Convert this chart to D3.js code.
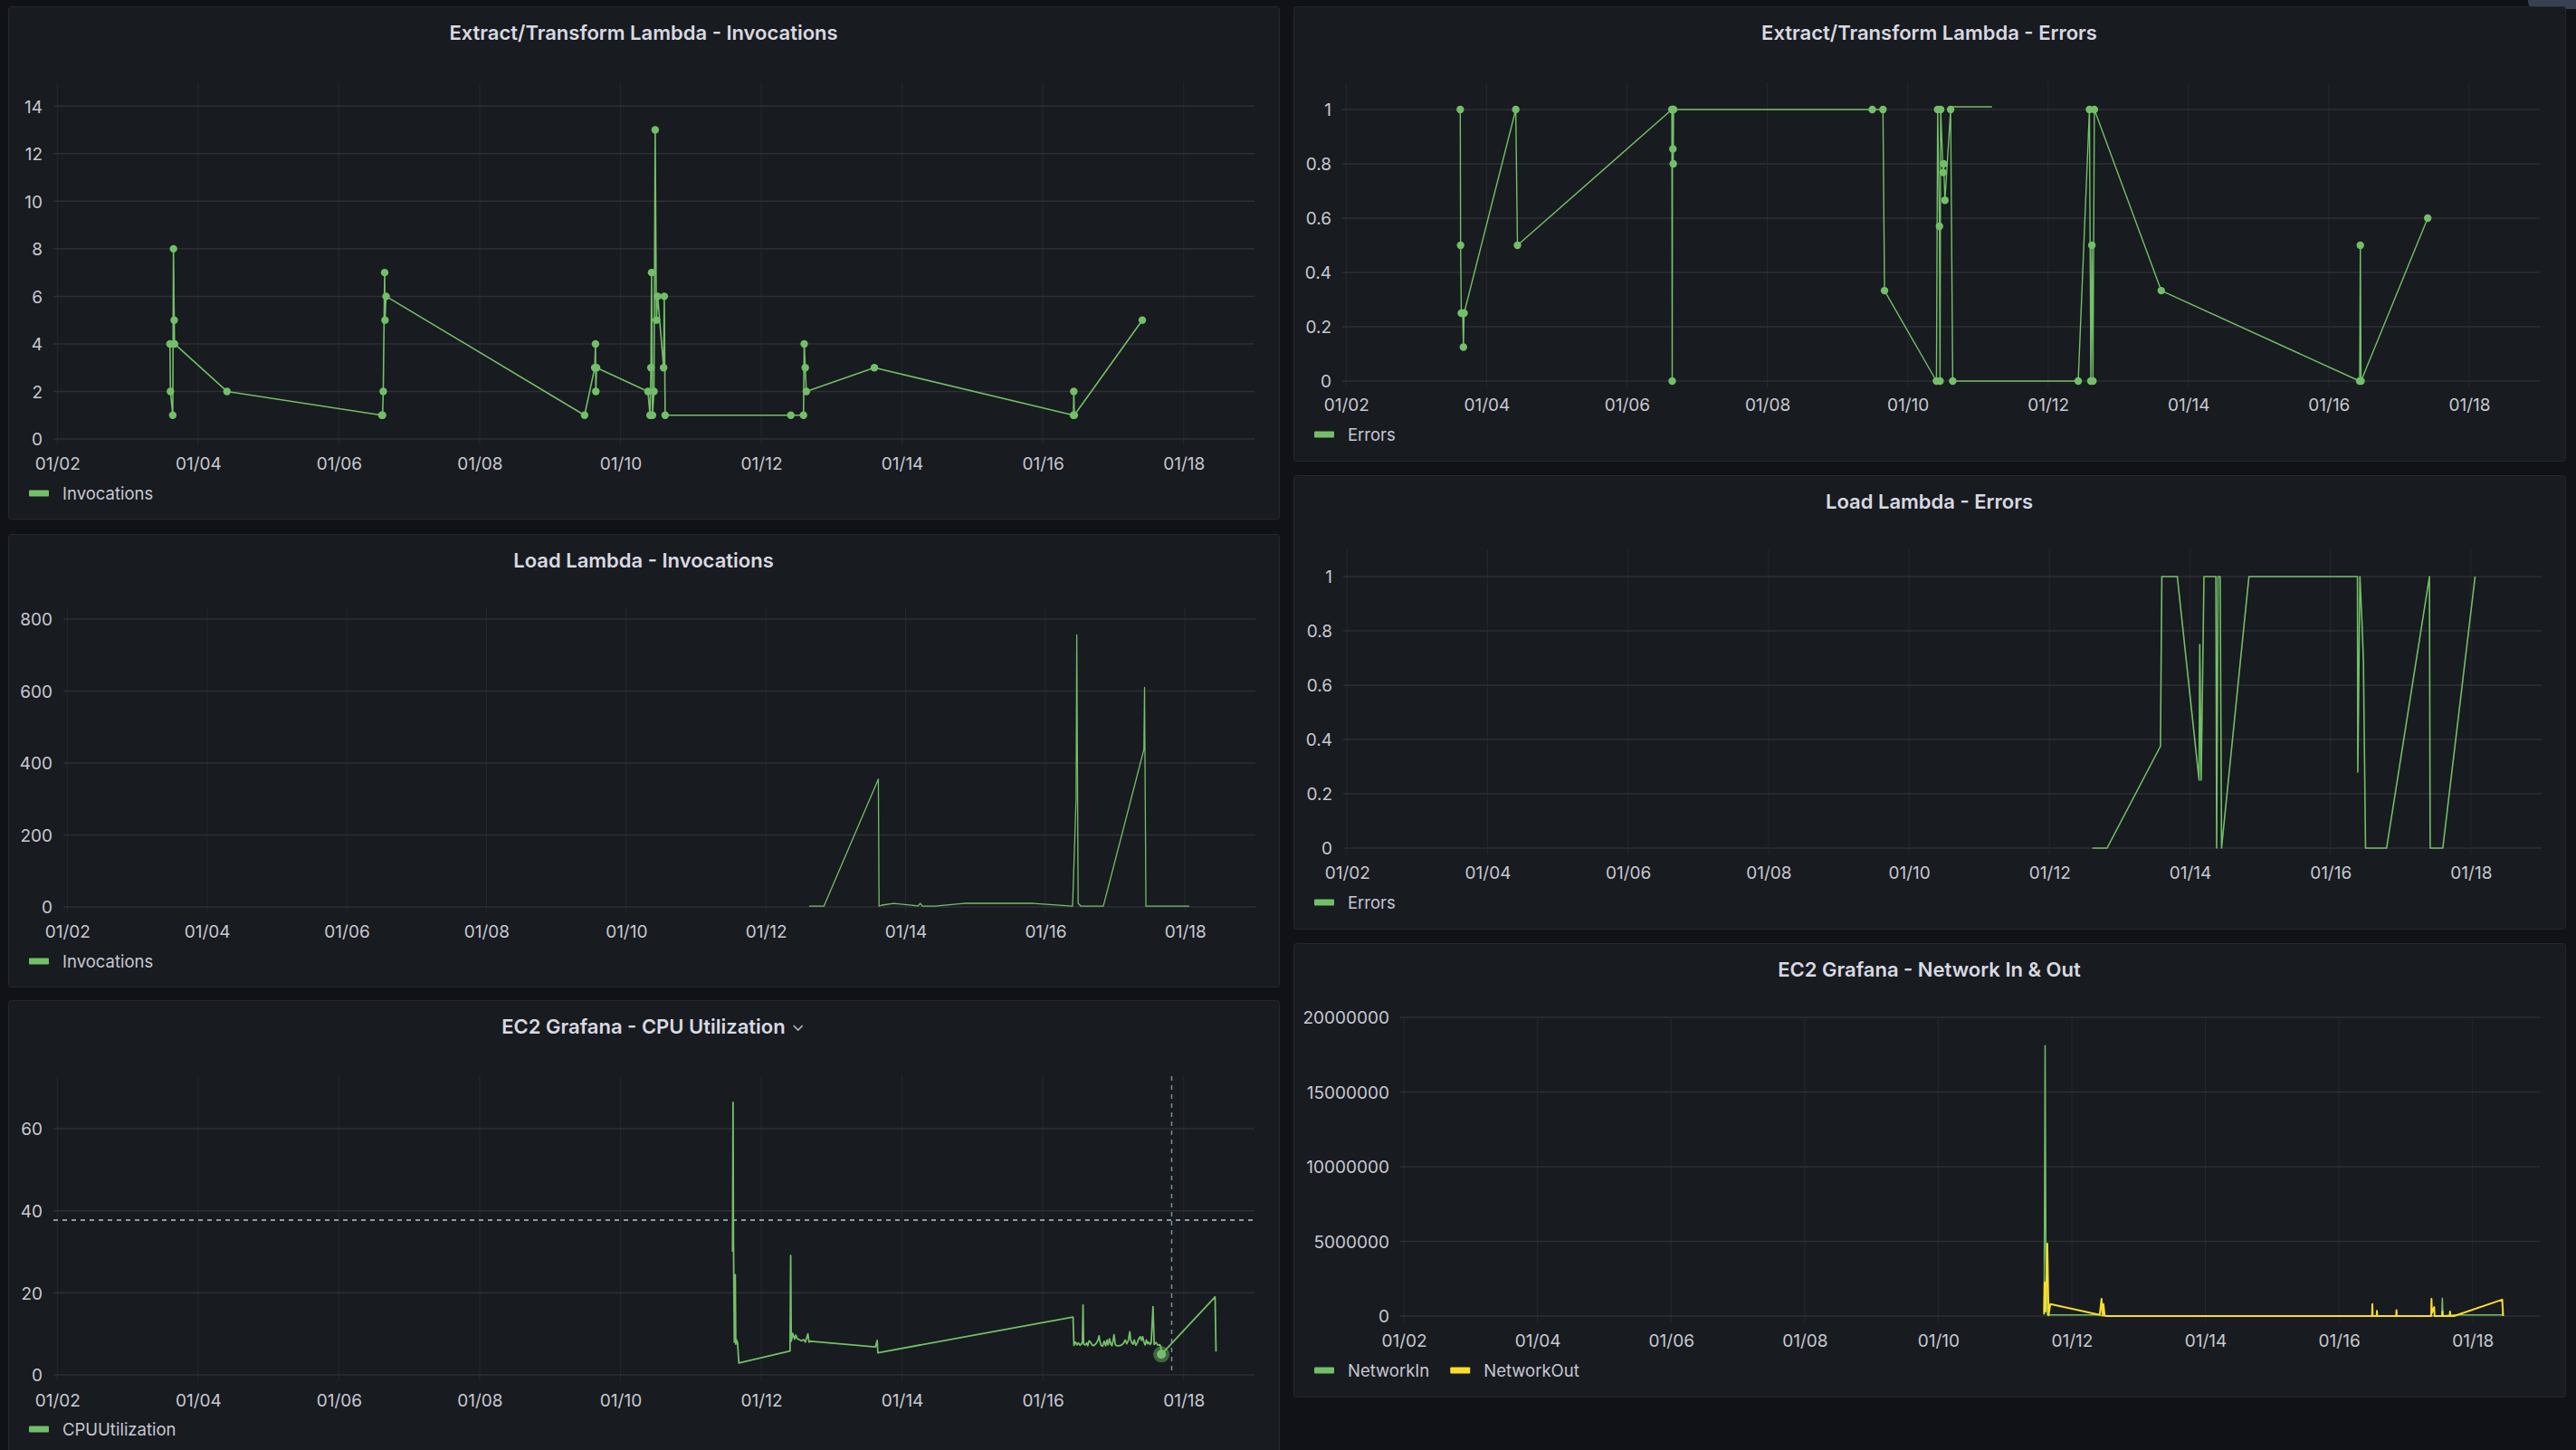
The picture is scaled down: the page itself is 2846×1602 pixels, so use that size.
<!DOCTYPE html>
<html>
<head>
<meta charset="utf-8">
<script src="https://cdn.jsdelivr.net/npm/d3@7"></script>
<style>
  html, body { margin: 0; padding: 0; background: #111217; overflow: hidden; }
  svg { display: block; font-family: Inter, "Noto Sans", sans-serif; }
</style>
</head>
<body>
<div id="chart"></div>
<script>
///// DATA : [days since 01/02 00:00, value] /////

var etInvocations = [
  [1.600,4],[1.607,2],[1.640,1],[1.650,8],[1.660,5],[1.665,4],[2.410,2],
  [4.610,1],[4.620,1],[4.630,2],[4.650,7],[4.655,5],[4.670,6],[7.490,1],
  [7.635,3],[7.645,4],[7.650,2],[7.660,3],[8.390,2],[8.420,1],[8.433,3],
  [8.442,7],[8.455,1],[8.476,2],[8.493,13],[8.510,5],[8.528,6],[8.613,3],
  [8.622,6],[8.635,1],[10.420,1],[10.600,1],[10.610,4],[10.625,3],[10.640,2],
  [11.607,3],[14.435,1],[14.440,2],[14.447,1],[15.413,5]
];

var etErrors = [
  [1.625,1],[1.630,0.5],[1.640,0.25],[1.660,0.25],[1.670,0.125],[1.680,0.25],
  [2.416,1],[2.440,0.5],[4.640,1],[4.645,0],[4.650,1],[4.655,0.855],[4.660,0.8],
  [4.665,1],[7.496,1],[7.648,1],[7.670,0.333],[8.410,0],[8.427,1],[8.453,0.57],
  [8.461,0],[8.470,1],[8.505,0.768],[8.513,0.8],[8.531,0.666],[8.612,1],[8.642,0],
  [10.430,0],[10.590,1],[10.610,0],[10.625,0.5],[10.640,0],[10.660,1],
  [11.613,0.333],[14.440,0],[14.450,0.5],[14.460,0],[15.410,0.6]
];
var etErrorsTail = [[8.634,1.01],[9.202,1.01]];

var loadInvocations = [
  [10.62,2],[10.83,2],[11.61,355],[11.62,2],[11.66,5],[11.83,10],[12.18,3],
  [12.21,10],[12.24,2],[12.42,2],[12.83,10],[13.83,10],[14.39,2],[14.44,300],
  [14.45,756],[14.47,10],[14.51,2],[14.83,2],[15.41,437],[15.42,610],[15.44,2],
  [16.06,2]
];

var loadErrors = [
  [10.61,0],[10.82,0],[11.58,0.375],[11.60,1],[11.82,1],[12.13,0.25],[12.14,0.75],
  [12.16,0.25],[12.20,1],[12.37,1],[12.38,0],[12.40,1],[12.43,1],[12.45,0],
  [12.84,1],[14.385,1],[14.39,0.28],[14.42,1],[14.45,0.83],[14.47,0.69],[14.50,0],
  [14.80,0],[15.41,1],[15.42,0],[15.60,0],[16.06,1]
];

var cpuUtilization = [
  [9.592,30],[9.599,66.4],[9.605,33],[9.618,8],[9.631,24.4],[9.638,7.5],[9.650,8.5],
  [9.663,7.9],[9.682,2.9],[10.409,5.8],[10.418,29.1],[10.426,8.2],[10.447,10.1],
  [10.473,8.7],[10.490,9.7],[10.512,8.8],[10.537,8.6],[10.576,8.3],[10.602,8.6],
  [10.627,8.0],[10.662,10.0],[10.679,8.0],[10.705,8.2],[11.621,6.8],[11.647,8.4],
  [11.656,5.4],[14.429,14.1],[14.442,7.2],[14.463,8.0],[14.485,7.3],[14.506,7.8],
  [14.528,7.2],[14.549,7.6],[14.562,8.0],[14.571,17.0],[14.579,7.5],[14.605,7.3],
  [14.622,7.8],[14.639,7.1],[14.656,8.3],[14.678,8.0],[14.699,7.3],[14.721,7.1],
  [14.742,7.4],[14.763,7.8],[14.785,8.6],[14.798,9.5],[14.811,8.2],[14.828,7.2],
  [14.849,7.0],[14.871,8.2],[14.892,7.1],[14.913,8.5],[14.926,7.3],[14.948,8.8],
  [14.965,7.5],[14.982,7.1],[14.999,8.4],[15.011,9.8],[15.029,7.4],[15.050,7.1],
  [15.076,7.1],[15.106,7.2],[15.128,7.4],[15.149,7.8],[15.171,8.5],[15.192,7.6],
  [15.213,8.3],[15.235,10.5],[15.248,8.5],[15.265,7.8],[15.282,7.5],[15.299,8.5],
  [15.321,7.2],[15.342,7.8],[15.363,8.8],[15.385,9.3],[15.402,8.4],[15.419,9.3],
  [15.436,8.0],[15.453,7.3],[15.471,8.5],[15.488,7.6],[15.505,8.0],[15.522,7.4],
  [15.539,7.8],[15.565,16.6],[15.582,7.4],[15.608,7.9],[15.634,7.2],[15.659,7.4],
  [15.676,6.8],[15.684,5.0],[16.447,19.0],[16.460,5.7]
];
var cpuCursor = [15.83, 37.7];   // crosshair position
var cpuHover = [15.684, 5.0];    // highlighted point

var networkIn = [
  [9.585,0.3e6],[9.600,18.1e6],[9.612,4.5e6],[9.624,1.5e6],[9.633,0.08e6],
  [10.418,0.08e6],[10.445,0.02e6],[14.500,0.02e6],[15.540,0.02e6],[15.548,1.2e6],
  [15.556,0.02e6],[15.722,0.08e6],[16.444,0.08e6],[16.458,0.3e6]
];
var networkOut = [
  [9.585,0.1e6],[9.593,2.26e6],[9.606,0.3e6],[9.633,4.85e6],[9.651,0.05e6],
  [9.678,0.8e6],[10.418,0.08e6],[10.445,1.15e6],[10.460,0.05e6],[10.473,0.8e6],
  [10.491,0.05e6],[10.509,0],[14.495,0],[14.500,0.8e6],[14.505,0],[14.563,0],
  [14.568,0.35e6],[14.573,0],[14.856,0],[14.861,0.4e6],[14.866,0],[15.380,0],
  [15.385,1.15e6],[15.392,0.2e6],[15.426,0.6e6],[15.432,0],[15.545,0],
  [15.550,0.3e6],[15.555,0],[15.658,0],[15.663,0.3e6],[15.668,0],[15.722,0],
  [16.444,1.1e6],[16.458,0]
];

var dayTicks = d3.range(0, 17, 2);          // 01/02 .. 01/18
var countTicks = d3.range(0, 15, 2);        // 0 .. 14
var ratioTicks = d3.range(0, 1.01, 0.2);    // 0 .. 1
var loadTicks = d3.range(0, 801, 200);      // 0 .. 800
var cpuTicks = d3.range(0, 61, 20);         // 0 .. 60
var netTicks = d3.range(0, 20000001, 5000000);

///// SETUP /////

var width = 2846;
var height = 1602;
var green = "#73bf69";
var yellow = "#fade2a";
var textColor = "#c7c9d3";

var base = new Date(2023, 0, 2);
function toDate(t) { return new Date(base.getTime() + t * 864e5); }
var timeStart = -0.0556, timeEnd = 17.0069;

var fmtRatio = d3.format("~f");
var fmtInt = d3.format("d");

var panels = [
  { title: "Extract/Transform Lambda - Invocations", box: [9, 7, 1404, 566],
    plot: [59, 91, 1386, 485], gridBottom: 492, yMax: 15, yTicks: countTicks, fmt: fmtInt,
    xLabelY: 512, legendY: 545,
    series: [{ name: "Invocations", data: etInvocations, color: green, w: 1.6, points: true }] },
  { title: "Extract/Transform Lambda - Errors", box: [1429, 7, 1405, 502],
    plot: [1483, 91, 2806, 421], gridBottom: 428, yMax: 1.1, yTicks: ratioTicks, fmt: fmtRatio,
    xLabelY: 447, legendY: 480,
    series: [{ name: "Errors", data: etErrors, color: green, w: 1.4, points: true },
             { name: null, data: etErrorsTail, color: green, w: 1.4 }] },
  { title: "Load Lambda - Invocations", box: [9, 590, 1404, 500],
    plot: [70, 672, 1387, 1002], gridBottom: 1008, yMax: 830, yTicks: loadTicks, fmt: fmtInt,
    xLabelY: 1029, legendY: 1062,
    series: [{ name: "Invocations", data: loadInvocations, color: green, w: 1.3 }] },
  { title: "Load Lambda - Errors", box: [1429, 525, 1405, 501],
    plot: [1484, 607, 2808, 937], gridBottom: 944, yMax: 1.1, yTicks: ratioTicks, fmt: fmtRatio,
    xLabelY: 964, legendY: 997,
    series: [{ name: "Errors", data: loadErrors, color: green, w: 1.6 }] },
  { title: "EC2 Grafana - CPU Utilization", box: [9, 1105, 1404, 520],
    plot: [59, 1189, 1386, 1519], gridBottom: 1526, yMax: 72.8, yTicks: cpuTicks, fmt: fmtInt,
    xLabelY: 1547, legendY: 1579, chevron: true, cursor: cpuCursor, hover: cpuHover,
    series: [{ name: "CPUUtilization", data: cpuUtilization, color: green, w: 1.8 }] },
  { title: "EC2 Grafana - Network In & Out", box: [1429, 1042, 1405, 501],
    plot: [1547, 1124, 2806, 1454], gridBottom: 1461, yMax: 20000000, yTicks: netTicks, fmt: fmtInt,
    xLabelY: 1481, legendY: 1514,
    series: [{ name: "NetworkIn", data: networkIn, color: green, w: 1.5 },
             { name: "NetworkOut", data: networkOut, color: yellow, w: 2 }] }
];

var svg = d3.select("#chart").append("svg")
  .attr("width", width)
  .attr("height", height);

svg.append("rect")
  .attr("width", "100%")
  .attr("height", "100%")
  .attr("fill", "#111217");

// bit of a toolbar button peeking in at the top right
svg.append("rect")
  .attr("x", 2793).attr("y", -14)
  .attr("width", 80).attr("height", 24)
  .attr("rx", 8)
  .attr("fill", "#384150");

panels.forEach(drawPanel);

function drawPanel(p) {
  var g = svg.append("g");
  var b = p.box;

  g.append("rect")
    .attr("x", b[0] + 0.5).attr("y", b[1] + 0.5)
    .attr("width", b[2]).attr("height", b[3])
    .attr("rx", 3)
    .attr("fill", "#181b1f")
    .attr("stroke", "#24272d");

  var title = g.append("text")
    .attr("x", b[0] + b[2] / 2)
    .attr("y", b[1] + 29)
    .attr("text-anchor", "middle")
    .attr("dominant-baseline", "central")
    .style("font-size", "22px")
    .style("font-weight", 600)
    .attr("fill", "#d8d9e3")
    .text(p.title);

  if (p.chevron) {
    var tw = title.node().getComputedTextLength();
    var cx = b[0] + b[2] / 2 + tw / 2 + 14;
    var cy = b[1] + 31;
    g.append("path")
      .attr("d", "M" + (cx - 5) + "," + (cy - 3) + " L" + cx + "," + (cy + 2) + " L" + (cx + 5) + "," + (cy - 3))
      .attr("fill", "none")
      .attr("stroke", "#b8bac4")
      .attr("stroke-width", 1.6);
  }

  var x = d3.scaleTime()
    .domain([toDate(timeStart), toDate(timeEnd)])
    .range([p.plot[0], p.plot[2]]);

  var y = d3.scaleLinear()
    .domain([0, p.yMax])
    .range([p.plot[3], p.plot[1]]);

  // grid
  g.selectAll(".vgrid")
    .data(dayTicks)
    .join("line")
    .attr("x1", function (d) { return x(toDate(d)); })
    .attr("x2", function (d) { return x(toDate(d)); })
    .attr("y1", p.plot[1])
    .attr("y2", p.gridBottom)
    .attr("stroke", "#24262b")
    .attr("stroke-width", 1.2);

  g.selectAll(".hgrid")
    .data(p.yTicks)
    .join("line")
    .attr("x1", p.plot[0])
    .attr("x2", p.plot[2])
    .attr("y1", function (d) { return y(d); })
    .attr("y2", function (d) { return y(d); })
    .attr("stroke", "#2c2f35")
    .attr("stroke-width", 1.5);

  // axes
  var xAxis = g.append("g")
    .attr("transform", "translate(0," + p.xLabelY + ")")
    .call(d3.axisBottom(x)
      .tickValues(dayTicks.map(toDate))
      .tickFormat(d3.timeFormat("%m/%d"))
      .tickSize(0)
      .tickPadding(0));
  styleAxis(xAxis);
  xAxis.selectAll("text").attr("y", 0).attr("dy", "0.36em");

  var yAxis = g.append("g")
    .attr("transform", "translate(" + p.plot[0] + ",0)")
    .call(d3.axisLeft(y)
      .tickValues(p.yTicks)
      .tickFormat(p.fmt)
      .tickSize(0)
      .tickPadding(12));
  styleAxis(yAxis);
  yAxis.selectAll("text").attr("dy", "0.36em");

  // crosshair
  if (p.cursor) {
    g.append("line")
      .attr("x1", p.plot[0]).attr("x2", p.plot[2])
      .attr("y1", y(p.cursor[1])).attr("y2", y(p.cursor[1]))
      .attr("stroke", "#8d9cab")
      .attr("stroke-width", 2)
      .attr("stroke-dasharray", "5,5");
    g.append("line")
      .attr("x1", x(toDate(p.cursor[0]))).attr("x2", x(toDate(p.cursor[0])))
      .attr("y1", p.plot[1]).attr("y2", p.plot[3])
      .attr("stroke", "#7f8e9d")
      .attr("stroke-width", 1.5)
      .attr("stroke-dasharray", "5,5");
  }

  // series
  var line = d3.line()
    .x(function (d) { return x(toDate(d[0])); })
    .y(function (d) { return y(d[1]); });

  p.series.forEach(function (s) {
    g.append("path")
      .datum(s.data)
      .attr("d", line)
      .attr("fill", "none")
      .attr("stroke", s.color)
      .attr("stroke-width", s.w)
      .attr("stroke-linejoin", "round");

    if (s.points) {
      g.append("g")
        .selectAll("circle")
        .data(s.data)
        .join("circle")
        .attr("cx", function (d) { return x(toDate(d[0])); })
        .attr("cy", function (d) { return y(d[1]); })
        .attr("r", 4.2)
        .attr("fill", s.color);
    }
  });

  if (p.hover) {
    g.append("circle")
      .attr("cx", x(toDate(p.hover[0]))).attr("cy", y(p.hover[1]))
      .attr("r", 9)
      .attr("fill", green)
      .attr("opacity", 0.45);
    g.append("circle")
      .attr("cx", x(toDate(p.hover[0]))).attr("cy", y(p.hover[1]))
      .attr("r", 5)
      .attr("fill", green);
  }

  // legend
  var lx = b[0] + 23;
  p.series.filter(function (s) { return s.name; }).forEach(function (s) {
    g.append("rect")
      .attr("x", lx).attr("y", p.legendY - 3.5)
      .attr("width", 22).attr("height", 7)
      .attr("rx", 1)
      .attr("fill", s.color);
    var t = g.append("text")
      .attr("x", lx + 37)
      .attr("y", p.legendY)
      .attr("dominant-baseline", "central")
      .style("font-size", "18.5px")
      .attr("fill", textColor)
      .text(s.name);
    lx += 37 + t.node().getComputedTextLength() + 23;
  });
}

function styleAxis(a) {
  a.select(".domain").remove();
  a.attr("font-family", null)
    .attr("font-size", null)
    .style("color", textColor);
  a.selectAll("text").style("font-size", "19px");
}
</script>
</body>
</html>
